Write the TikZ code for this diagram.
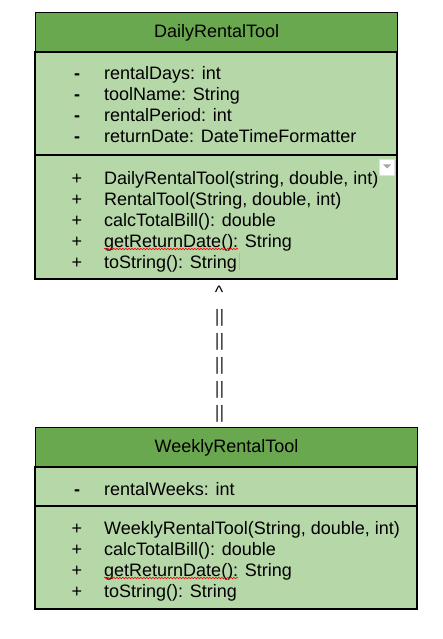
\documentclass[tikz,border=0pt]{standalone}
\usepackage{fontspec}
\setmainfont{Liberation Sans}
\usetikzlibrary{calc,math,decorations.pathmorphing}
\definecolor{headgreen}{HTML}{6AA84F}
\definecolor{bodygreen}{HTML}{B6D7A8}
\tikzset{
  classhead/.style={draw, line width=1.2pt, fill=headgreen, anchor=north west, minimum height=40pt, inner sep=0pt, font=\fontsize{18}{21}\selectfont},
  compartment/.style={draw, line width=1.2pt, fill=bodygreen},
  member/.style={anchor=base west, inner sep=0pt, font=\fontsize{18}{21}\selectfont},
  vis/.style={anchor=base, inner sep=0pt, font=\fontsize{18}{21}\selectfont},
  squiggle/.style={red, line width=0.6pt, decorate, decoration={snake, amplitude=0.8pt, segment length=3pt}},
  linktext/.style={anchor=base, inner sep=0pt, font=\fontsize{18}{24}\selectfont},
}

\begin{document}
\begin{tikzpicture}[x=1pt, y=-1pt]
            \tikzmath{\row = 21;}
            \fill[white] (0,0) rectangle (442,639);
            \useasboundingbox (0,0) rectangle (442,639);

            % DailyRentalTool
            \node[classhead, minimum width=362pt] (daily) at (35,12) {DailyRentalTool};
            \filldraw[compartment] (35,52) rectangle (397,155);
            \filldraw[compartment] (35,155) rectangle (397,279);
            \foreach \txt [count=\i] in {rentalDays: int, toolName: String, rentalPeriod: int, returnDate: DateTimeFormatter}{
                \node[vis] (dvis\i) at (77, {59+\i*\row}) {\bfseries -};
                \node[member] (dattr\i) at (104, {59+\i*\row}) {\txt};
            }
            \foreach \txt [count=\i] in {{DailyRentalTool(string, double, int)}, {RentalTool(String, double, int)}, calcTotalBill(): double, getReturnDate(): String, toString(): String}{
                \node[vis] (dop\i) at (77, {163+\i*\row}) {+};
                \node[member] (dmeth\i) at (104, {163+\i*\row}) {\txt};
            }
            \draw[squiggle] (104,249) -- (238,249);
            \draw[black!30] (239,253) -- (239,270);
            \filldraw[fill=white, draw=black!12] (379,159) rectangle (394,175);
            \fill[black!35] (383,164.5) -- (391,164.5) -- (387,168.5) -- cycle;

            % typed link
            \node[linktext] (caret) at (219,298) {\textasciicircum};
            \foreach \i in {1,...,5}
                \node[linktext, text=black!80] (pipe\i) at (219.5, {298+\i*24}) {||};

            % WeeklyRentalTool
            \node[classhead, minimum width=382pt] (weekly) at (35,427) {WeeklyRentalTool};
            \filldraw[compartment] (35,467) rectangle (417,506);
            \filldraw[compartment] (35,506) rectangle (417,609);
            \node[vis] (wvis1) at (77,495) {\bfseries -};
            \node[member] (wattr1) at (104,495) {rentalWeeks: int};
            \foreach \txt [count=\i] in {{WeeklyRentalTool(String, double, int)}, calcTotalBill(): double, getReturnDate(): String, toString(): String}{
                \node[vis] (wop\i) at (77, {513+\i*\row}) {+};
                \node[member] (wmeth\i) at (104, {513+\i*\row}) {\txt};
            }
            \draw[squiggle] (104,578) -- (238,578);
        \end{tikzpicture}
\end{document}
